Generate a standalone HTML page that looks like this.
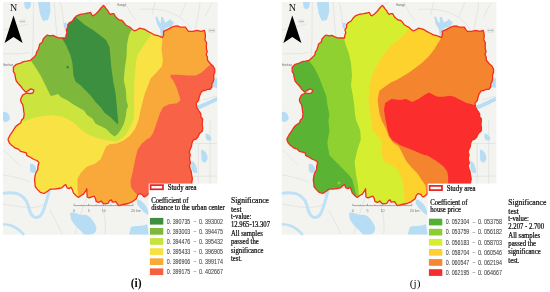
<!DOCTYPE html>
<html><head><meta charset="utf-8"><title>Figure</title>
<style>html,body{margin:0;padding:0;background:#fff;}svg{display:block;}</style></head>
<body>
<svg width="550" height="292" viewBox="0 0 550 292">
<rect width="550" height="292" fill="#fff"/>
<g transform="translate(0,0)">
<rect x="3" y="2" width="214.6" height="232.7" fill="#f3f3f0"/>
<path d="M33.5,2 C33,20 34,40 32,58" fill="none" stroke="#d9d9d6" stroke-width="0.55"/>
<path d="M54,2 C56,15 55,28 58,40" fill="none" stroke="#d9d9d6" stroke-width="0.55"/>
<path d="M60,2 C64,12 62,22 66,30" fill="none" stroke="#d9d9d6" stroke-width="0.55"/>
<path d="M3,54 C12,53 22,55 30,52" fill="none" stroke="#d9d9d6" stroke-width="0.55"/>
<path d="M3,30 C12,28 20,26 28,24" fill="none" stroke="#d9d9d6" stroke-width="0.55"/>
<path d="M140,9.4 C158,8 178,10 191.4,29.1" fill="none" stroke="#d9d9d6" stroke-width="0.55"/>
<path d="M155,2 C154,6 153,10 152,15" fill="none" stroke="#d9d9d6" stroke-width="0.55"/>
<path d="M186,2 C184,8 182,12 179.4,17.1" fill="none" stroke="#d9d9d6" stroke-width="0.55"/>
<path d="M200,2 C199,12 197,20 195,29" fill="none" stroke="#d9d9d6" stroke-width="0.55"/>
<path d="M212,3 C210,8 207,12 205,17" fill="none" stroke="#d9d9d6" stroke-width="0.55"/>
<path d="M125,2 C128,8 130,14 136,20" fill="none" stroke="#d9d9d6" stroke-width="0.55"/>
<path d="M110,2 C108,4 104,5 100,4" fill="none" stroke="#d9d9d6" stroke-width="0.55"/>
<path d="M190.1,143.5 L217,143.5 M198.4,143.5 L198.4,190 M190,176.4 L217,176 M210,120 L210,190" fill="none" stroke="#d9d9d6" stroke-width="0.55"/>
<path d="M203,100 L217,96" fill="none" stroke="#d9d9d6" stroke-width="0.55"/>
<path d="M3,150 C8,152 12,160 20,165" fill="none" stroke="#d9d9d6" stroke-width="0.55"/>
<path d="M3,175 C10,176 20,178 30,182" fill="none" stroke="#d9d9d6" stroke-width="0.55"/>
<path d="M50,210 C55,220 60,228 62,234" fill="none" stroke="#d9d9d6" stroke-width="0.55"/>
<path d="M75,234 C80,215 85,200 90,190" fill="none" stroke="#d9d9d6" stroke-width="0.55"/>
<path d="M105,234 C106,220 104,210 100,200" fill="none" stroke="#d9d9d6" stroke-width="0.55"/>
<path d="M3,204 C20,207 35,210 45,204" fill="none" stroke="#d9d9d6" stroke-width="0.55"/>
<path d="M150,208 C170,205 190,212 217,205" fill="none" stroke="#d9d9d6" stroke-width="0.55"/>
<path d="M175,186 C185,200 195,215 200,234" fill="none" stroke="#d9d9d6" stroke-width="0.55"/>
<path d="M3,193.6 C7,192.5 13,192.6 17.1,193.6 C20,194.5 24,197.5 26.5,201.3 C28,204 28.5,206.5 29.1,209 C30,212 31,214.5 32.5,215.8 C34,217.3 35.5,217.8 36.8,217.5 C38.5,217.2 40,216.3 41.1,215 C42.8,212.5 43.8,210 44.5,207.2 C45.5,204 46.3,201.5 47.1,198.7 C47.8,196 48.3,193.8 49.8,188" fill="none" stroke="#bfe1f5" stroke-width="3"/>
<path d="M3,224.3 C6,224.5 8.5,224.8 10.3,225.2 C13,226 15,227.2 17.1,228.6 C19,230 21,231.5 22.2,232.9 L24,235" fill="none" stroke="#bfe1f5" stroke-width="2.6"/>
<g font-family="Liberation Sans" font-size="2.6" fill="#666"><text x="3.2" y="66.3" textLength="10" lengthAdjust="spacingAndGlyphs">Hanchuan</text><text x="117.2" y="6" textLength="8.8" lengthAdjust="spacingAndGlyphs">Huangpi</text></g>
<g font-family="Liberation Sans" font-size="2.2" fill="#777"><rect x="208.6" y="29" width="6.4" height="3.2" rx="0.6" fill="#e9e9e7" stroke="#c9c9c7" stroke-width="0.3"/><text x="209.3" y="31.4" textLength="5" lengthAdjust="spacingAndGlyphs">G42</text><rect x="19.6" y="19.8" width="5.6" height="2.8" rx="0.5" fill="#ececea" stroke="#d0d0ce" stroke-width="0.3"/><text x="20.1" y="22" textLength="4.6" lengthAdjust="spacingAndGlyphs">G42</text></g>
<path d="M24,2 L31,2 L30.5,7 L28,9.5 L25,8 Z" fill="#b7ddf4"/>
<path d="M38,2 L50,2 L50.5,12 L48,20 L43,21 L40,14 Z" fill="#b7ddf4"/>
<path d="M63.5,23 L67,22.8 L66.5,29 L64,28 Z" fill="#b7ddf4"/>
<path d="M155.4,17 L157,16.5 L159.5,22 L161,23 L161,17 L163,17 L165,22.5 L168,21 L170,19 L172,21 L174.2,22.3 L172,26 L166,28 L164,30 L164,35 L161,36 L160,29 L157,24 Z" fill="#b7ddf4"/>
<path d="M70,213 C75,211 78,215 83,215 C88,214 92,219 95,224 C98,229 96,234.5 90,234.5 L84,234.5 C80,229 74,226 71,219 Z" fill="#b7ddf4"/>
<path d="M131,227 C136,225 141,227 147,224 L149,234.5 L129,234.5 Z" fill="#b7ddf4"/>
<path d="M137,199.5 C140,199 143,202 146,206 C148,210 149,213 148,215 C144,213 140,208 137,204 Z" fill="#b7ddf4"/>
<path d="M196,106 C202,104 210,100 217,97 L217,101 C210,104 203,108 197,110 Z" fill="#b7ddf4"/>
<path d="M211,80 L217,78 L217,88 L213,87 Z" fill="#b7ddf4"/>
<path d="M205.6,134 C208,133 211,136 211.7,139 C210,141.5 207,141 205.6,138 Z" fill="#b7ddf4"/>
<path d="M201,150 C204,149 207,153 207.6,158 C207,163 203,164 201.5,160 Z" fill="#b7ddf4"/>
<path d="M191.5,161 C194,160 197,166 197.3,172 C195,175 192,172 191.5,167 Z" fill="#b7ddf4"/>
<path d="M3,112 C6,111 9,113 10,118 C9,122 5,123 3,121 Z" fill="#b7ddf4"/>
<path d="M30,164 C33,163 36,166 36.5,170 C35,174 31,174 30,170 Z" fill="#b7ddf4"/>
<clipPath id="cl"><polygon points="13.4,67.3 16.4,64.3 20.6,63.2 23.5,61.7 26.7,61.2 30.2,60.4 32.9,58.1 36.0,55.0 36.6,52.2 38.2,49.7 39.0,47.0 39.8,44.0 42.5,42.0 43.2,39.0 45.1,36.8 47.3,35.0 50.0,35.8 52.9,35.3 55.5,36.6 58.5,37.9 61.7,38.0 65.8,38.0 66.0,35.3 67.0,32.7 66.2,29.9 67.8,27.4 67.8,24.7 69.7,22.5 72.4,21.0 74.0,18.5 76.7,15.8 80.2,14.4 85.0,13.7 88.4,13.0 90.5,12.3 91.8,15.1 93.2,15.8 96.0,13.7 98.7,11.0 101.4,7.5 103.5,5.5 104.9,6.8 106.2,8.9 107.6,10.3 109.0,13.0 110.3,14.4 112.4,13.7 113.8,13.7 115.1,15.8 116.5,17.8 119.2,19.9 122.0,20.5 124.0,22.6 125.4,24.7 127.5,26.0 130.2,27.4 132.3,29.5 134.3,30.8 136.4,30.1 137.7,29.5 139.8,28.1 142.5,28.8 145.0,29.5 147.9,31.4 152.0,33.5 154.5,34.8 157.3,35.5 160.0,36.3 162.5,37.6 163.7,34.6 163.5,31.4 167.7,29.3 171.9,27.2 175.0,26.1 177.8,26.0 180.3,27.2 185.5,27.2 186.9,29.4 188.6,31.4 192.8,31.4 197.0,30.3 201.2,31.4 204.3,30.3 205.2,33.4 205.4,36.6 204.9,39.8 206.6,42.8 206.4,46.0 206.4,48.8 207.3,51.6 206.2,54.5 207.5,57.2 207.4,60.0 208.6,61.5 210.7,64.0 213.2,66.2 214.7,69.1 214.8,72.3 213.6,75.3 213.9,78.5 213.2,81.6 211.9,84.0 211.9,87.0 210.1,89.3 207.4,89.3 205.0,90.5 202.4,90.9 200.4,93.7 199.3,97.0 198.5,100.5 196.2,103.2 196.6,106.4 197.8,109.4 199.5,111.6 200.9,114.0 200.8,116.7 202.6,119.0 202.4,121.7 202.2,124.8 202.7,127.9 202.4,131.0 199.5,133.6 197.8,137.2 195.8,139.2 193.1,140.2 191.9,143.2 191.5,146.5 190.1,149.5 189.2,152.1 190.3,154.8 189.6,157.4 189.7,160.0 190.5,162.9 189.3,165.8 190.2,168.7 191.2,171.5 191.6,174.5 192.4,178.9 191.6,183.3 191.6,187.0 188.9,186.7 186.2,187.7 183.5,186.4 180.8,187.2 178.1,186.6 175.4,187.8 172.7,186.5 169.9,187.2 167.2,186.4 164.5,187.8 161.8,186.7 159.1,187.2 156.4,186.3 153.7,187.7 151.0,187.0 150.0,191.5 147.9,194.4 145.0,196.8 143.5,196.5 142.1,194.4 139.2,193.6 137.7,195.1 136.3,198.7 132.6,201.6 128.3,203.5 123.2,204.5 118.8,205.6 117.4,204.2 115.9,201.6 112.3,202.2 111.6,200.0 109.8,200.5 108.0,203.3 105.0,203.8 102.8,203.1 101.1,201.0 98.7,202.4 96.3,201.7 95.3,198.3 94.2,196.2 91.8,196.9 89.1,197.9 87.2,197.0 86.9,192.0 86.8,188.6 86.1,190.4 83.5,194.2 81.0,195.5 78.5,197.4 75.9,195.5 73.4,192.9 72.1,189.1 70.8,187.2 69.5,188.5 67.0,187.8 65.7,184.6 64.5,185.3 61.9,187.8 58.1,188.5 54.3,189.1 50.5,189.1 47.9,191.0 44.1,193.5 40.3,192.3 37.1,189.1 35.2,186.5 35.0,183.3 34.5,180.2 35.2,175.1 36.1,172.4 37.7,170.0 38.0,165.7 39.0,162.6 37.0,160.5 33.9,159.5 30.8,157.5 26.7,155.4 26.7,153.4 24.7,152.3 20.5,151.3 18.4,149.1 15.4,148.2 11.3,145.1 9.3,142.8 8.2,140.0 8.2,138.8 10.3,134.7 12.5,131.7 14.4,128.5 16.1,126.1 18.5,124.4 20.8,122.8 21.6,120.0 23.6,118.2 24.2,114.0 23.6,110.5 23.3,107.4 22.6,104.3 21.0,102.0 20.6,99.2 22.6,95.1 26.7,93.0 29.8,93.7 32.9,93.0 33.9,90.0 30.8,88.9 28.4,90.6 25.7,92.0 22.6,88.9 20.8,86.2 18.5,83.8 16.3,81.0 15.4,77.6 14.9,74.3 13.4,71.4"/></clipPath>
<polygon points="13.4,67.3 16.4,64.3 20.6,63.2 23.5,61.7 26.7,61.2 30.2,60.4 32.9,58.1 36.0,55.0 36.6,52.2 38.2,49.7 39.0,47.0 39.8,44.0 42.5,42.0 43.2,39.0 45.1,36.8 47.3,35.0 50.0,35.8 52.9,35.3 55.5,36.6 58.5,37.9 61.7,38.0 65.8,38.0 66.0,35.3 67.0,32.7 66.2,29.9 67.8,27.4 67.8,24.7 69.7,22.5 72.4,21.0 74.0,18.5 76.7,15.8 80.2,14.4 85.0,13.7 88.4,13.0 90.5,12.3 91.8,15.1 93.2,15.8 96.0,13.7 98.7,11.0 101.4,7.5 103.5,5.5 104.9,6.8 106.2,8.9 107.6,10.3 109.0,13.0 110.3,14.4 112.4,13.7 113.8,13.7 115.1,15.8 116.5,17.8 119.2,19.9 122.0,20.5 124.0,22.6 125.4,24.7 127.5,26.0 130.2,27.4 132.3,29.5 134.3,30.8 136.4,30.1 137.7,29.5 139.8,28.1 142.5,28.8 145.0,29.5 147.9,31.4 152.0,33.5 154.5,34.8 157.3,35.5 160.0,36.3 162.5,37.6 163.7,34.6 163.5,31.4 167.7,29.3 171.9,27.2 175.0,26.1 177.8,26.0 180.3,27.2 185.5,27.2 186.9,29.4 188.6,31.4 192.8,31.4 197.0,30.3 201.2,31.4 204.3,30.3 205.2,33.4 205.4,36.6 204.9,39.8 206.6,42.8 206.4,46.0 206.4,48.8 207.3,51.6 206.2,54.5 207.5,57.2 207.4,60.0 208.6,61.5 210.7,64.0 213.2,66.2 214.7,69.1 214.8,72.3 213.6,75.3 213.9,78.5 213.2,81.6 211.9,84.0 211.9,87.0 210.1,89.3 207.4,89.3 205.0,90.5 202.4,90.9 200.4,93.7 199.3,97.0 198.5,100.5 196.2,103.2 196.6,106.4 197.8,109.4 199.5,111.6 200.9,114.0 200.8,116.7 202.6,119.0 202.4,121.7 202.2,124.8 202.7,127.9 202.4,131.0 199.5,133.6 197.8,137.2 195.8,139.2 193.1,140.2 191.9,143.2 191.5,146.5 190.1,149.5 189.2,152.1 190.3,154.8 189.6,157.4 189.7,160.0 190.5,162.9 189.3,165.8 190.2,168.7 191.2,171.5 191.6,174.5 192.4,178.9 191.6,183.3 191.6,187.0 188.9,186.7 186.2,187.7 183.5,186.4 180.8,187.2 178.1,186.6 175.4,187.8 172.7,186.5 169.9,187.2 167.2,186.4 164.5,187.8 161.8,186.7 159.1,187.2 156.4,186.3 153.7,187.7 151.0,187.0 150.0,191.5 147.9,194.4 145.0,196.8 143.5,196.5 142.1,194.4 139.2,193.6 137.7,195.1 136.3,198.7 132.6,201.6 128.3,203.5 123.2,204.5 118.8,205.6 117.4,204.2 115.9,201.6 112.3,202.2 111.6,200.0 109.8,200.5 108.0,203.3 105.0,203.8 102.8,203.1 101.1,201.0 98.7,202.4 96.3,201.7 95.3,198.3 94.2,196.2 91.8,196.9 89.1,197.9 87.2,197.0 86.9,192.0 86.8,188.6 86.1,190.4 83.5,194.2 81.0,195.5 78.5,197.4 75.9,195.5 73.4,192.9 72.1,189.1 70.8,187.2 69.5,188.5 67.0,187.8 65.7,184.6 64.5,185.3 61.9,187.8 58.1,188.5 54.3,189.1 50.5,189.1 47.9,191.0 44.1,193.5 40.3,192.3 37.1,189.1 35.2,186.5 35.0,183.3 34.5,180.2 35.2,175.1 36.1,172.4 37.7,170.0 38.0,165.7 39.0,162.6 37.0,160.5 33.9,159.5 30.8,157.5 26.7,155.4 26.7,153.4 24.7,152.3 20.5,151.3 18.4,149.1 15.4,148.2 11.3,145.1 9.3,142.8 8.2,140.0 8.2,138.8 10.3,134.7 12.5,131.7 14.4,128.5 16.1,126.1 18.5,124.4 20.8,122.8 21.6,120.0 23.6,118.2 24.2,114.0 23.6,110.5 23.3,107.4 22.6,104.3 21.0,102.0 20.6,99.2 22.6,95.1 26.7,93.0 29.8,93.7 32.9,93.0 33.9,90.0 30.8,88.9 28.4,90.6 25.7,92.0 22.6,88.9 20.8,86.2 18.5,83.8 16.3,81.0 15.4,77.6 14.9,74.3 13.4,71.4" fill="#f9e244"/>
<g clip-path="url(#cl)"><g transform="translate(0,0)">
<polygon points="162.5,0 162.5,37.6 161.5,50 162.9,60 161.9,66.2 156.7,72.3 150.6,78.5 147.5,86.7 144.4,95 142.3,103.2 140.6,110 138.5,120.3 135.1,128.8 129.9,135.7 123.1,140.8 116.2,143.4 109.4,144.2 106,146.8 103.4,152.8 100.8,159 95,163.7 86.7,166.7 80.6,172.9 77.5,179.1 77.5,189.4 78.5,194.5 78,215 230,215 230,0" fill="#f9a93a" />
<polygon points="230,60 212,60 210,65.1 206.1,68.2 202,72.3 195.8,75.4 187.6,75.4 179.4,74.8 171.1,74.8 170.1,76.5 173.2,80.6 176.3,86.7 179.4,96 180.4,100.1 177.3,103.2 169.1,104.2 162.9,107.3 159.8,113.5 157.5,120.5 153.1,133 150,137.6 146.8,139.3 141.6,143.7 137.5,149.9 135,160.2 133,170.8 130.5,181.1 131,187.3 134,191.4 137.1,194.5 139.7,197.2 140,215 230,215" fill="#f86247" />
<polygon points="0,0 0,121 24.7,121.3 32.9,118.2 41.1,116.2 51.4,115.1 61.7,116.5 70,120.3 75.1,123.7 80.3,128.8 87.1,134 95.7,137.4 104.2,140 111.1,140.8 116.2,141.7 121.4,139.1 126.5,134 129.9,127.1 133.4,120.3 134.2,110 134,100.6 134.1,86.7 135.1,72.3 136.2,60 138,54 144,45 152,33.5 152,0" fill="#cbe43e" />
<polygon points="28,0 28,50 31.3,61.2 35.4,67.3 40.6,75.6 44.7,83.8 48.8,92 50.8,96.1 55,95.1 58,94.1 61.1,97.2 67.3,100.2 73.5,104.4 79.6,108 84,110.5 87.1,115.1 92.3,118.6 95.7,123.7 100.8,126.3 106,128.8 111.1,134 114.5,136.5 117.9,134 121.4,128.8 123.9,123.7 125.7,116.8 126.5,110 128,106 126.5,100.6 125.9,90.5 123.8,80.1 124.9,67.5 126.5,57 127,45 128.8,35.6 131.6,29.5 134,0" fill="#7db83c" />
<polygon points="58,30 61.7,38 66,45 70.4,55 72.4,63.2 73.5,75.6 75.5,81.7 80.3,85.1 85.4,90.3 90.6,95.4 95.7,102.3 100.9,107.4 104.3,112.6 111.1,117.7 116.3,122.9 117.5,124.3 118.4,123.2 117.4,113.8 116.5,102.5 115.5,93 113.4,82.2 111.3,67.5 110.2,55 109.5,47 106,40 101,36 93,30 85,25 76,17.5 70,10" fill="#3b8f3e" />
<polygon points="69.00,67.20 68.81,67.90 68.30,68.41 67.60,68.60 66.90,68.41 66.39,67.90 66.20,67.20 66.39,66.50 66.90,65.99 67.60,65.80 68.30,65.99 68.81,66.50" fill="#3b8f3e" />
</g></g>
<polygon points="13.4,67.3 16.4,64.3 20.6,63.2 23.5,61.7 26.7,61.2 30.2,60.4 32.9,58.1 36.0,55.0 36.6,52.2 38.2,49.7 39.0,47.0 39.8,44.0 42.5,42.0 43.2,39.0 45.1,36.8 47.3,35.0 50.0,35.8 52.9,35.3 55.5,36.6 58.5,37.9 61.7,38.0 65.8,38.0 66.0,35.3 67.0,32.7 66.2,29.9 67.8,27.4 67.8,24.7 69.7,22.5 72.4,21.0 74.0,18.5 76.7,15.8 80.2,14.4 85.0,13.7 88.4,13.0 90.5,12.3 91.8,15.1 93.2,15.8 96.0,13.7 98.7,11.0 101.4,7.5 103.5,5.5 104.9,6.8 106.2,8.9 107.6,10.3 109.0,13.0 110.3,14.4 112.4,13.7 113.8,13.7 115.1,15.8 116.5,17.8 119.2,19.9 122.0,20.5 124.0,22.6 125.4,24.7 127.5,26.0 130.2,27.4 132.3,29.5 134.3,30.8 136.4,30.1 137.7,29.5 139.8,28.1 142.5,28.8 145.0,29.5 147.9,31.4 152.0,33.5 154.5,34.8 157.3,35.5 160.0,36.3 162.5,37.6 163.7,34.6 163.5,31.4 167.7,29.3 171.9,27.2 175.0,26.1 177.8,26.0 180.3,27.2 185.5,27.2 186.9,29.4 188.6,31.4 192.8,31.4 197.0,30.3 201.2,31.4 204.3,30.3 205.2,33.4 205.4,36.6 204.9,39.8 206.6,42.8 206.4,46.0 206.4,48.8 207.3,51.6 206.2,54.5 207.5,57.2 207.4,60.0 208.6,61.5 210.7,64.0 213.2,66.2 214.7,69.1 214.8,72.3 213.6,75.3 213.9,78.5 213.2,81.6 211.9,84.0 211.9,87.0 210.1,89.3 207.4,89.3 205.0,90.5 202.4,90.9 200.4,93.7 199.3,97.0 198.5,100.5 196.2,103.2 196.6,106.4 197.8,109.4 199.5,111.6 200.9,114.0 200.8,116.7 202.6,119.0 202.4,121.7 202.2,124.8 202.7,127.9 202.4,131.0 199.5,133.6 197.8,137.2 195.8,139.2 193.1,140.2 191.9,143.2 191.5,146.5 190.1,149.5 189.2,152.1 190.3,154.8 189.6,157.4 189.7,160.0 190.5,162.9 189.3,165.8 190.2,168.7 191.2,171.5 191.6,174.5 192.4,178.9 191.6,183.3 191.6,187.0 188.9,186.7 186.2,187.7 183.5,186.4 180.8,187.2 178.1,186.6 175.4,187.8 172.7,186.5 169.9,187.2 167.2,186.4 164.5,187.8 161.8,186.7 159.1,187.2 156.4,186.3 153.7,187.7 151.0,187.0 150.0,191.5 147.9,194.4 145.0,196.8 143.5,196.5 142.1,194.4 139.2,193.6 137.7,195.1 136.3,198.7 132.6,201.6 128.3,203.5 123.2,204.5 118.8,205.6 117.4,204.2 115.9,201.6 112.3,202.2 111.6,200.0 109.8,200.5 108.0,203.3 105.0,203.8 102.8,203.1 101.1,201.0 98.7,202.4 96.3,201.7 95.3,198.3 94.2,196.2 91.8,196.9 89.1,197.9 87.2,197.0 86.9,192.0 86.8,188.6 86.1,190.4 83.5,194.2 81.0,195.5 78.5,197.4 75.9,195.5 73.4,192.9 72.1,189.1 70.8,187.2 69.5,188.5 67.0,187.8 65.7,184.6 64.5,185.3 61.9,187.8 58.1,188.5 54.3,189.1 50.5,189.1 47.9,191.0 44.1,193.5 40.3,192.3 37.1,189.1 35.2,186.5 35.0,183.3 34.5,180.2 35.2,175.1 36.1,172.4 37.7,170.0 38.0,165.7 39.0,162.6 37.0,160.5 33.9,159.5 30.8,157.5 26.7,155.4 26.7,153.4 24.7,152.3 20.5,151.3 18.4,149.1 15.4,148.2 11.3,145.1 9.3,142.8 8.2,140.0 8.2,138.8 10.3,134.7 12.5,131.7 14.4,128.5 16.1,126.1 18.5,124.4 20.8,122.8 21.6,120.0 23.6,118.2 24.2,114.0 23.6,110.5 23.3,107.4 22.6,104.3 21.0,102.0 20.6,99.2 22.6,95.1 26.7,93.0 29.8,93.7 32.9,93.0 33.9,90.0 30.8,88.9 28.4,90.6 25.7,92.0 22.6,88.9 20.8,86.2 18.5,83.8 16.3,81.0 15.4,77.6 14.9,74.3 13.4,71.4" fill="none" stroke="#f2301e" stroke-width="1.3" stroke-linejoin="round"/>
<text x="13.6" y="10.7" font-family="Liberation Serif" font-size="10" text-anchor="middle" fill="#111">N</text>
<polygon points="13.5,15.4 4.6,43.1 13.5,36.9 22.6,43.1" fill="#000"/>
<g stroke="#777" stroke-width="0.6" fill="none"><path d="M74,205.6 H133"/><path d="M74,203.8 V205.6 M81.4,204.6 V205.6 M88.7,203.8 V205.6 M96.1,204.6 V205.6 M103.5,203.8 V205.6 M110.9,204.6 V205.6 M118.2,204.6 V205.6 M125.6,204.6 V205.6 M133,203.8 V205.6"/></g>
<g font-family="Liberation Sans" font-size="3.6" fill="#777"><text x="73" y="211.5">0</text><text x="87.8" y="211.5">5</text><text x="101.8" y="211.5">10</text><text x="131" y="211.5">20 km</text></g>
</g>
<g transform="translate(278.8,0)">
<rect x="3" y="2" width="214.6" height="232.7" fill="#f3f3f0"/>
<path d="M33.5,2 C33,20 34,40 32,58" fill="none" stroke="#d9d9d6" stroke-width="0.55"/>
<path d="M54,2 C56,15 55,28 58,40" fill="none" stroke="#d9d9d6" stroke-width="0.55"/>
<path d="M60,2 C64,12 62,22 66,30" fill="none" stroke="#d9d9d6" stroke-width="0.55"/>
<path d="M3,54 C12,53 22,55 30,52" fill="none" stroke="#d9d9d6" stroke-width="0.55"/>
<path d="M3,30 C12,28 20,26 28,24" fill="none" stroke="#d9d9d6" stroke-width="0.55"/>
<path d="M140,9.4 C158,8 178,10 191.4,29.1" fill="none" stroke="#d9d9d6" stroke-width="0.55"/>
<path d="M155,2 C154,6 153,10 152,15" fill="none" stroke="#d9d9d6" stroke-width="0.55"/>
<path d="M186,2 C184,8 182,12 179.4,17.1" fill="none" stroke="#d9d9d6" stroke-width="0.55"/>
<path d="M200,2 C199,12 197,20 195,29" fill="none" stroke="#d9d9d6" stroke-width="0.55"/>
<path d="M212,3 C210,8 207,12 205,17" fill="none" stroke="#d9d9d6" stroke-width="0.55"/>
<path d="M125,2 C128,8 130,14 136,20" fill="none" stroke="#d9d9d6" stroke-width="0.55"/>
<path d="M110,2 C108,4 104,5 100,4" fill="none" stroke="#d9d9d6" stroke-width="0.55"/>
<path d="M190.1,143.5 L217,143.5 M198.4,143.5 L198.4,190 M190,176.4 L217,176 M210,120 L210,190" fill="none" stroke="#d9d9d6" stroke-width="0.55"/>
<path d="M203,100 L217,96" fill="none" stroke="#d9d9d6" stroke-width="0.55"/>
<path d="M3,150 C8,152 12,160 20,165" fill="none" stroke="#d9d9d6" stroke-width="0.55"/>
<path d="M3,175 C10,176 20,178 30,182" fill="none" stroke="#d9d9d6" stroke-width="0.55"/>
<path d="M50,210 C55,220 60,228 62,234" fill="none" stroke="#d9d9d6" stroke-width="0.55"/>
<path d="M75,234 C80,215 85,200 90,190" fill="none" stroke="#d9d9d6" stroke-width="0.55"/>
<path d="M105,234 C106,220 104,210 100,200" fill="none" stroke="#d9d9d6" stroke-width="0.55"/>
<path d="M3,204 C20,207 35,210 45,204" fill="none" stroke="#d9d9d6" stroke-width="0.55"/>
<path d="M150,208 C170,205 190,212 217,205" fill="none" stroke="#d9d9d6" stroke-width="0.55"/>
<path d="M175,186 C185,200 195,215 200,234" fill="none" stroke="#d9d9d6" stroke-width="0.55"/>
<path d="M3,193.6 C7,192.5 13,192.6 17.1,193.6 C20,194.5 24,197.5 26.5,201.3 C28,204 28.5,206.5 29.1,209 C30,212 31,214.5 32.5,215.8 C34,217.3 35.5,217.8 36.8,217.5 C38.5,217.2 40,216.3 41.1,215 C42.8,212.5 43.8,210 44.5,207.2 C45.5,204 46.3,201.5 47.1,198.7 C47.8,196 48.3,193.8 49.8,188" fill="none" stroke="#bfe1f5" stroke-width="3"/>
<path d="M3,224.3 C6,224.5 8.5,224.8 10.3,225.2 C13,226 15,227.2 17.1,228.6 C19,230 21,231.5 22.2,232.9 L24,235" fill="none" stroke="#bfe1f5" stroke-width="2.6"/>
<g font-family="Liberation Sans" font-size="2.6" fill="#666"><text x="3.2" y="66.3" textLength="10" lengthAdjust="spacingAndGlyphs">Hanchuan</text><text x="117.2" y="6" textLength="8.8" lengthAdjust="spacingAndGlyphs">Huangpi</text></g>
<g font-family="Liberation Sans" font-size="2.2" fill="#777"><rect x="208.6" y="29" width="6.4" height="3.2" rx="0.6" fill="#e9e9e7" stroke="#c9c9c7" stroke-width="0.3"/><text x="209.3" y="31.4" textLength="5" lengthAdjust="spacingAndGlyphs">G42</text><rect x="19.6" y="19.8" width="5.6" height="2.8" rx="0.5" fill="#ececea" stroke="#d0d0ce" stroke-width="0.3"/><text x="20.1" y="22" textLength="4.6" lengthAdjust="spacingAndGlyphs">G42</text></g>
<path d="M24,2 L31,2 L30.5,7 L28,9.5 L25,8 Z" fill="#b7ddf4"/>
<path d="M38,2 L50,2 L50.5,12 L48,20 L43,21 L40,14 Z" fill="#b7ddf4"/>
<path d="M63.5,23 L67,22.8 L66.5,29 L64,28 Z" fill="#b7ddf4"/>
<path d="M155.4,17 L157,16.5 L159.5,22 L161,23 L161,17 L163,17 L165,22.5 L168,21 L170,19 L172,21 L174.2,22.3 L172,26 L166,28 L164,30 L164,35 L161,36 L160,29 L157,24 Z" fill="#b7ddf4"/>
<path d="M70,213 C75,211 78,215 83,215 C88,214 92,219 95,224 C98,229 96,234.5 90,234.5 L84,234.5 C80,229 74,226 71,219 Z" fill="#b7ddf4"/>
<path d="M131,227 C136,225 141,227 147,224 L149,234.5 L129,234.5 Z" fill="#b7ddf4"/>
<path d="M137,199.5 C140,199 143,202 146,206 C148,210 149,213 148,215 C144,213 140,208 137,204 Z" fill="#b7ddf4"/>
<path d="M196,106 C202,104 210,100 217,97 L217,101 C210,104 203,108 197,110 Z" fill="#b7ddf4"/>
<path d="M211,80 L217,78 L217,88 L213,87 Z" fill="#b7ddf4"/>
<path d="M205.6,134 C208,133 211,136 211.7,139 C210,141.5 207,141 205.6,138 Z" fill="#b7ddf4"/>
<path d="M201,150 C204,149 207,153 207.6,158 C207,163 203,164 201.5,160 Z" fill="#b7ddf4"/>
<path d="M191.5,161 C194,160 197,166 197.3,172 C195,175 192,172 191.5,167 Z" fill="#b7ddf4"/>
<path d="M3,112 C6,111 9,113 10,118 C9,122 5,123 3,121 Z" fill="#b7ddf4"/>
<path d="M30,164 C33,163 36,166 36.5,170 C35,174 31,174 30,170 Z" fill="#b7ddf4"/>
<clipPath id="cr"><polygon points="13.4,67.3 16.4,64.3 20.6,63.2 23.5,61.7 26.7,61.2 30.2,60.4 32.9,58.1 36.0,55.0 36.6,52.2 38.2,49.7 39.0,47.0 39.8,44.0 42.5,42.0 43.2,39.0 45.1,36.8 47.3,35.0 50.0,35.8 52.9,35.3 55.5,36.6 58.5,37.9 61.7,38.0 65.8,38.0 66.0,35.3 67.0,32.7 66.2,29.9 67.8,27.4 67.8,24.7 69.7,22.5 72.4,21.0 74.0,18.5 76.7,15.8 80.2,14.4 85.0,13.7 88.4,13.0 90.5,12.3 91.8,15.1 93.2,15.8 96.0,13.7 98.7,11.0 101.4,7.5 103.5,5.5 104.9,6.8 106.2,8.9 107.6,10.3 109.0,13.0 110.3,14.4 112.4,13.7 113.8,13.7 115.1,15.8 116.5,17.8 119.2,19.9 122.0,20.5 124.0,22.6 125.4,24.7 127.5,26.0 130.2,27.4 132.3,29.5 134.3,30.8 136.4,30.1 137.7,29.5 139.8,28.1 142.5,28.8 145.0,29.5 147.9,31.4 152.0,33.5 154.5,34.8 157.3,35.5 160.0,36.3 162.5,37.6 163.7,34.6 163.5,31.4 167.7,29.3 171.9,27.2 175.0,26.1 177.8,26.0 180.3,27.2 185.5,27.2 186.9,29.4 188.6,31.4 192.8,31.4 197.0,30.3 201.2,31.4 204.3,30.3 205.2,33.4 205.4,36.6 204.9,39.8 206.6,42.8 206.4,46.0 206.4,48.8 207.3,51.6 206.2,54.5 207.5,57.2 207.4,60.0 208.6,61.5 210.7,64.0 213.2,66.2 214.7,69.1 214.8,72.3 213.6,75.3 213.9,78.5 213.2,81.6 211.9,84.0 211.9,87.0 210.1,89.3 207.4,89.3 205.0,90.5 202.4,90.9 200.4,93.7 199.3,97.0 198.5,100.5 196.2,103.2 196.6,106.4 197.8,109.4 199.5,111.6 200.9,114.0 200.8,116.7 202.6,119.0 202.4,121.7 202.2,124.8 202.7,127.9 202.4,131.0 199.5,133.6 197.8,137.2 195.8,139.2 193.1,140.2 191.9,143.2 191.5,146.5 190.1,149.5 189.2,152.1 190.3,154.8 189.6,157.4 189.7,160.0 190.5,162.9 189.3,165.8 190.2,168.7 191.2,171.5 191.6,174.5 192.4,178.9 191.6,183.3 191.6,187.0 188.9,186.7 186.2,187.7 183.5,186.4 180.8,187.2 178.1,186.6 175.4,187.8 172.7,186.5 169.9,187.2 167.2,186.4 164.5,187.8 161.8,186.7 159.1,187.2 156.4,186.3 153.7,187.7 151.0,187.0 150.0,191.5 147.9,194.4 145.0,196.8 143.5,196.5 142.1,194.4 139.2,193.6 137.7,195.1 136.3,198.7 132.6,201.6 128.3,203.5 123.2,204.5 118.8,205.6 117.4,204.2 115.9,201.6 112.3,202.2 111.6,200.0 109.8,200.5 108.0,203.3 105.0,203.8 102.8,203.1 101.1,201.0 98.7,202.4 96.3,201.7 95.3,198.3 94.2,196.2 91.8,196.9 89.1,197.9 87.2,197.0 86.9,192.0 86.8,188.6 86.1,190.4 83.5,194.2 81.0,195.5 78.5,197.4 75.9,195.5 73.4,192.9 72.1,189.1 70.8,187.2 69.5,188.5 67.0,187.8 65.7,184.6 64.5,185.3 61.9,187.8 58.1,188.5 54.3,189.1 50.5,189.1 47.9,191.0 44.1,193.5 40.3,192.3 37.1,189.1 35.2,186.5 35.0,183.3 34.5,180.2 35.2,175.1 36.1,172.4 37.7,170.0 38.0,165.7 39.0,162.6 37.0,160.5 33.9,159.5 30.8,157.5 26.7,155.4 26.7,153.4 24.7,152.3 20.5,151.3 18.4,149.1 15.4,148.2 11.3,145.1 9.3,142.8 8.2,140.0 8.2,138.8 10.3,134.7 12.5,131.7 14.4,128.5 16.1,126.1 18.5,124.4 20.8,122.8 21.6,120.0 23.6,118.2 24.2,114.0 23.6,110.5 23.3,107.4 22.6,104.3 21.0,102.0 20.6,99.2 22.6,95.1 26.7,93.0 29.8,93.7 32.9,93.0 33.9,90.0 30.8,88.9 28.4,90.6 25.7,92.0 22.6,88.9 20.8,86.2 18.5,83.8 16.3,81.0 15.4,77.6 14.9,74.3 13.4,71.4"/></clipPath>
<polygon points="13.4,67.3 16.4,64.3 20.6,63.2 23.5,61.7 26.7,61.2 30.2,60.4 32.9,58.1 36.0,55.0 36.6,52.2 38.2,49.7 39.0,47.0 39.8,44.0 42.5,42.0 43.2,39.0 45.1,36.8 47.3,35.0 50.0,35.8 52.9,35.3 55.5,36.6 58.5,37.9 61.7,38.0 65.8,38.0 66.0,35.3 67.0,32.7 66.2,29.9 67.8,27.4 67.8,24.7 69.7,22.5 72.4,21.0 74.0,18.5 76.7,15.8 80.2,14.4 85.0,13.7 88.4,13.0 90.5,12.3 91.8,15.1 93.2,15.8 96.0,13.7 98.7,11.0 101.4,7.5 103.5,5.5 104.9,6.8 106.2,8.9 107.6,10.3 109.0,13.0 110.3,14.4 112.4,13.7 113.8,13.7 115.1,15.8 116.5,17.8 119.2,19.9 122.0,20.5 124.0,22.6 125.4,24.7 127.5,26.0 130.2,27.4 132.3,29.5 134.3,30.8 136.4,30.1 137.7,29.5 139.8,28.1 142.5,28.8 145.0,29.5 147.9,31.4 152.0,33.5 154.5,34.8 157.3,35.5 160.0,36.3 162.5,37.6 163.7,34.6 163.5,31.4 167.7,29.3 171.9,27.2 175.0,26.1 177.8,26.0 180.3,27.2 185.5,27.2 186.9,29.4 188.6,31.4 192.8,31.4 197.0,30.3 201.2,31.4 204.3,30.3 205.2,33.4 205.4,36.6 204.9,39.8 206.6,42.8 206.4,46.0 206.4,48.8 207.3,51.6 206.2,54.5 207.5,57.2 207.4,60.0 208.6,61.5 210.7,64.0 213.2,66.2 214.7,69.1 214.8,72.3 213.6,75.3 213.9,78.5 213.2,81.6 211.9,84.0 211.9,87.0 210.1,89.3 207.4,89.3 205.0,90.5 202.4,90.9 200.4,93.7 199.3,97.0 198.5,100.5 196.2,103.2 196.6,106.4 197.8,109.4 199.5,111.6 200.9,114.0 200.8,116.7 202.6,119.0 202.4,121.7 202.2,124.8 202.7,127.9 202.4,131.0 199.5,133.6 197.8,137.2 195.8,139.2 193.1,140.2 191.9,143.2 191.5,146.5 190.1,149.5 189.2,152.1 190.3,154.8 189.6,157.4 189.7,160.0 190.5,162.9 189.3,165.8 190.2,168.7 191.2,171.5 191.6,174.5 192.4,178.9 191.6,183.3 191.6,187.0 188.9,186.7 186.2,187.7 183.5,186.4 180.8,187.2 178.1,186.6 175.4,187.8 172.7,186.5 169.9,187.2 167.2,186.4 164.5,187.8 161.8,186.7 159.1,187.2 156.4,186.3 153.7,187.7 151.0,187.0 150.0,191.5 147.9,194.4 145.0,196.8 143.5,196.5 142.1,194.4 139.2,193.6 137.7,195.1 136.3,198.7 132.6,201.6 128.3,203.5 123.2,204.5 118.8,205.6 117.4,204.2 115.9,201.6 112.3,202.2 111.6,200.0 109.8,200.5 108.0,203.3 105.0,203.8 102.8,203.1 101.1,201.0 98.7,202.4 96.3,201.7 95.3,198.3 94.2,196.2 91.8,196.9 89.1,197.9 87.2,197.0 86.9,192.0 86.8,188.6 86.1,190.4 83.5,194.2 81.0,195.5 78.5,197.4 75.9,195.5 73.4,192.9 72.1,189.1 70.8,187.2 69.5,188.5 67.0,187.8 65.7,184.6 64.5,185.3 61.9,187.8 58.1,188.5 54.3,189.1 50.5,189.1 47.9,191.0 44.1,193.5 40.3,192.3 37.1,189.1 35.2,186.5 35.0,183.3 34.5,180.2 35.2,175.1 36.1,172.4 37.7,170.0 38.0,165.7 39.0,162.6 37.0,160.5 33.9,159.5 30.8,157.5 26.7,155.4 26.7,153.4 24.7,152.3 20.5,151.3 18.4,149.1 15.4,148.2 11.3,145.1 9.3,142.8 8.2,140.0 8.2,138.8 10.3,134.7 12.5,131.7 14.4,128.5 16.1,126.1 18.5,124.4 20.8,122.8 21.6,120.0 23.6,118.2 24.2,114.0 23.6,110.5 23.3,107.4 22.6,104.3 21.0,102.0 20.6,99.2 22.6,95.1 26.7,93.0 29.8,93.7 32.9,93.0 33.9,90.0 30.8,88.9 28.4,90.6 25.7,92.0 22.6,88.9 20.8,86.2 18.5,83.8 16.3,81.0 15.4,77.6 14.9,74.3 13.4,71.4" fill="#5ab332"/>
<g clip-path="url(#cr)"><g transform="translate(-0.8,0)">
<polygon points="28,0 28,50 31.9,62.2 36,67.3 41.1,77.6 45.2,87.9 48.3,96.1 49.3,104.3 51.4,115 50.4,120.3 51.4,130.6 49.3,142.9 51.4,155.2 59.6,163.5 66,170 71,175 74.3,179.4 76.7,189 78.5,196 79,215 230,215 230,0" fill="#8ed130" />
<polygon points="65.8,0 65.8,38 67.8,45.2 70.9,53.5 73,63.2 74,75.6 73,85.8 75,96.1 76.1,104.3 77.1,115 78.1,120.3 82.3,130.5 82.8,139.5 79.3,150 76.6,162 78,174 80,185 81,196 81,215 230,215 230,0" fill="#d5ef30" />
<polygon points="131.4,0 131.4,28.4 123.1,37.6 112.8,45.8 104.6,56.1 98.5,66.4 94.3,75 91.5,85.8 90.5,100.2 92.5,115 93.5,120 94.1,130 98.2,134.1 103.3,140.3 104.3,146.5 103.3,152.6 105.4,160.8 112.6,165 118.7,169.1 122.8,175.2 124.9,183.5 125.9,190 126.5,200 127,215 230,215 230,0" fill="#fdd22d" />
<polygon points="163.5,0 163.5,37.6 160.7,42 156.4,48.9 151.3,55.7 144.4,62.6 137.6,67.7 131.5,72.2 124.5,76.5 119.5,79.5 112.8,82.6 106.7,86.7 101.5,90.8 100.5,95 99.7,100.2 100.7,108.5 101.8,115 104,121 106.5,126 108.5,130 110.5,136.2 114.6,142.3 120.8,146.5 123.9,152.6 128,160.8 133.1,167 139.3,173.2 143.4,179.4 147.5,185.5 149,200 150,215 230,215 230,0" fill="#f5842f" />
<polygon points="230,100 199.1,106.2 197,105.2 192.8,104.1 188.6,103.1 182.4,100 176.1,96.8 171.9,95.8 165.6,96.8 159.4,96.8 155.2,94.7 151,92.6 146.8,94.7 140.5,98.9 134.3,102 128,98.9 121.7,100 113.4,98.9 107.1,103.1 106,110 107.5,120 109,127 109.5,130 111.5,136.2 114.6,140.3 122.8,145.4 133.1,149.5 145.5,154.7 149.3,155.5 158.4,160.9 165.6,166.4 169.3,171.8 170.2,177.3 170.2,186 230,186" fill="#fb2d2d" />
<polygon points="62.50,183.00 62.30,183.75 61.75,184.30 61.00,184.50 60.25,184.30 59.70,183.75 59.50,183.00 59.70,182.25 60.25,181.70 61.00,181.50 61.75,181.70 62.30,182.25" fill="#93cb3c" />
</g></g>
<polygon points="13.4,67.3 16.4,64.3 20.6,63.2 23.5,61.7 26.7,61.2 30.2,60.4 32.9,58.1 36.0,55.0 36.6,52.2 38.2,49.7 39.0,47.0 39.8,44.0 42.5,42.0 43.2,39.0 45.1,36.8 47.3,35.0 50.0,35.8 52.9,35.3 55.5,36.6 58.5,37.9 61.7,38.0 65.8,38.0 66.0,35.3 67.0,32.7 66.2,29.9 67.8,27.4 67.8,24.7 69.7,22.5 72.4,21.0 74.0,18.5 76.7,15.8 80.2,14.4 85.0,13.7 88.4,13.0 90.5,12.3 91.8,15.1 93.2,15.8 96.0,13.7 98.7,11.0 101.4,7.5 103.5,5.5 104.9,6.8 106.2,8.9 107.6,10.3 109.0,13.0 110.3,14.4 112.4,13.7 113.8,13.7 115.1,15.8 116.5,17.8 119.2,19.9 122.0,20.5 124.0,22.6 125.4,24.7 127.5,26.0 130.2,27.4 132.3,29.5 134.3,30.8 136.4,30.1 137.7,29.5 139.8,28.1 142.5,28.8 145.0,29.5 147.9,31.4 152.0,33.5 154.5,34.8 157.3,35.5 160.0,36.3 162.5,37.6 163.7,34.6 163.5,31.4 167.7,29.3 171.9,27.2 175.0,26.1 177.8,26.0 180.3,27.2 185.5,27.2 186.9,29.4 188.6,31.4 192.8,31.4 197.0,30.3 201.2,31.4 204.3,30.3 205.2,33.4 205.4,36.6 204.9,39.8 206.6,42.8 206.4,46.0 206.4,48.8 207.3,51.6 206.2,54.5 207.5,57.2 207.4,60.0 208.6,61.5 210.7,64.0 213.2,66.2 214.7,69.1 214.8,72.3 213.6,75.3 213.9,78.5 213.2,81.6 211.9,84.0 211.9,87.0 210.1,89.3 207.4,89.3 205.0,90.5 202.4,90.9 200.4,93.7 199.3,97.0 198.5,100.5 196.2,103.2 196.6,106.4 197.8,109.4 199.5,111.6 200.9,114.0 200.8,116.7 202.6,119.0 202.4,121.7 202.2,124.8 202.7,127.9 202.4,131.0 199.5,133.6 197.8,137.2 195.8,139.2 193.1,140.2 191.9,143.2 191.5,146.5 190.1,149.5 189.2,152.1 190.3,154.8 189.6,157.4 189.7,160.0 190.5,162.9 189.3,165.8 190.2,168.7 191.2,171.5 191.6,174.5 192.4,178.9 191.6,183.3 191.6,187.0 188.9,186.7 186.2,187.7 183.5,186.4 180.8,187.2 178.1,186.6 175.4,187.8 172.7,186.5 169.9,187.2 167.2,186.4 164.5,187.8 161.8,186.7 159.1,187.2 156.4,186.3 153.7,187.7 151.0,187.0 150.0,191.5 147.9,194.4 145.0,196.8 143.5,196.5 142.1,194.4 139.2,193.6 137.7,195.1 136.3,198.7 132.6,201.6 128.3,203.5 123.2,204.5 118.8,205.6 117.4,204.2 115.9,201.6 112.3,202.2 111.6,200.0 109.8,200.5 108.0,203.3 105.0,203.8 102.8,203.1 101.1,201.0 98.7,202.4 96.3,201.7 95.3,198.3 94.2,196.2 91.8,196.9 89.1,197.9 87.2,197.0 86.9,192.0 86.8,188.6 86.1,190.4 83.5,194.2 81.0,195.5 78.5,197.4 75.9,195.5 73.4,192.9 72.1,189.1 70.8,187.2 69.5,188.5 67.0,187.8 65.7,184.6 64.5,185.3 61.9,187.8 58.1,188.5 54.3,189.1 50.5,189.1 47.9,191.0 44.1,193.5 40.3,192.3 37.1,189.1 35.2,186.5 35.0,183.3 34.5,180.2 35.2,175.1 36.1,172.4 37.7,170.0 38.0,165.7 39.0,162.6 37.0,160.5 33.9,159.5 30.8,157.5 26.7,155.4 26.7,153.4 24.7,152.3 20.5,151.3 18.4,149.1 15.4,148.2 11.3,145.1 9.3,142.8 8.2,140.0 8.2,138.8 10.3,134.7 12.5,131.7 14.4,128.5 16.1,126.1 18.5,124.4 20.8,122.8 21.6,120.0 23.6,118.2 24.2,114.0 23.6,110.5 23.3,107.4 22.6,104.3 21.0,102.0 20.6,99.2 22.6,95.1 26.7,93.0 29.8,93.7 32.9,93.0 33.9,90.0 30.8,88.9 28.4,90.6 25.7,92.0 22.6,88.9 20.8,86.2 18.5,83.8 16.3,81.0 15.4,77.6 14.9,74.3 13.4,71.4" fill="none" stroke="#f2301e" stroke-width="1.3" stroke-linejoin="round"/>
<text x="13.6" y="10.7" font-family="Liberation Serif" font-size="10" text-anchor="middle" fill="#111">N</text>
<polygon points="13.5,15.4 4.6,43.1 13.5,36.9 22.6,43.1" fill="#000"/>
<g stroke="#777" stroke-width="0.6" fill="none"><path d="M74,205.6 H133"/><path d="M74,203.8 V205.6 M81.4,204.6 V205.6 M88.7,203.8 V205.6 M96.1,204.6 V205.6 M103.5,203.8 V205.6 M110.9,204.6 V205.6 M118.2,204.6 V205.6 M125.6,204.6 V205.6 M133,203.8 V205.6"/></g>
<g font-family="Liberation Sans" font-size="3.6" fill="#777"><text x="73" y="211.5">0</text><text x="87.8" y="211.5">5</text><text x="101.8" y="211.5">10</text><text x="131" y="211.5">20 km</text></g>
</g>
<rect x="148.7" y="183.6" width="69.3" height="52" fill="#fff"/>
<rect x="150.6" y="185.1" width="12.4" height="4.2" fill="#fff" stroke="#ec1c1c" stroke-width="1.7"/>
<text transform="translate(167.7,190.3) scale(1,1.12)" font-size="6.8" font-family="Liberation Serif" fill="#111" stroke="#111" stroke-width="0.22">Study area</text>
<text transform="translate(151.2,203) scale(1,1.1)" font-size="6.7" font-family="Liberation Serif" fill="#111" stroke="#111" stroke-width="0.22">Coefficient of</text>
<text transform="translate(151.2,210.1) scale(1,1.1)" font-size="6.7" font-family="Liberation Serif" fill="#111" stroke="#111" stroke-width="0.22">distance to the urban center</text>
<rect x="149.9" y="217.90" width="13.4" height="6.7" fill="#3d8e40"/>
<text x="166.8" y="223.50" font-family="Liberation Sans" font-size="7" fill="#444" stroke="#444" stroke-width="0.08" lengthAdjust="spacingAndGlyphs" textLength="23.5">0. 390735</text>
<text x="194.9" y="222.90" font-family="Liberation Sans" font-size="5" fill="#505050" text-anchor="middle">–</text>
<text x="199" y="223.50" font-family="Liberation Sans" font-size="7" fill="#444" stroke="#444" stroke-width="0.08" lengthAdjust="spacingAndGlyphs" textLength="23.9">0. 393002</text>
<rect x="149.9" y="228.00" width="13.4" height="6.7" fill="#7db83c"/>
<text x="166.8" y="233.60" font-family="Liberation Sans" font-size="7" fill="#444" stroke="#444" stroke-width="0.08" lengthAdjust="spacingAndGlyphs" textLength="23.5">0. 393003</text>
<text x="194.9" y="233.00" font-family="Liberation Sans" font-size="5" fill="#505050" text-anchor="middle">–</text>
<text x="199" y="233.60" font-family="Liberation Sans" font-size="7" fill="#444" stroke="#444" stroke-width="0.08" lengthAdjust="spacingAndGlyphs" textLength="23.9">0. 394475</text>
<rect x="149.9" y="238.10" width="13.4" height="6.7" fill="#c8e23d"/>
<text x="166.8" y="243.70" font-family="Liberation Sans" font-size="7" fill="#444" stroke="#444" stroke-width="0.08" lengthAdjust="spacingAndGlyphs" textLength="23.5">0. 394476</text>
<text x="194.9" y="243.10" font-family="Liberation Sans" font-size="5" fill="#505050" text-anchor="middle">–</text>
<text x="199" y="243.70" font-family="Liberation Sans" font-size="7" fill="#444" stroke="#444" stroke-width="0.08" lengthAdjust="spacingAndGlyphs" textLength="23.9">0. 395432</text>
<rect x="149.9" y="248.20" width="13.4" height="6.7" fill="#f9e042"/>
<text x="166.8" y="253.80" font-family="Liberation Sans" font-size="7" fill="#444" stroke="#444" stroke-width="0.08" lengthAdjust="spacingAndGlyphs" textLength="23.5">0. 395433</text>
<text x="194.9" y="253.20" font-family="Liberation Sans" font-size="5" fill="#505050" text-anchor="middle">–</text>
<text x="199" y="253.80" font-family="Liberation Sans" font-size="7" fill="#444" stroke="#444" stroke-width="0.08" lengthAdjust="spacingAndGlyphs" textLength="23.9">0. 396905</text>
<rect x="149.9" y="258.30" width="13.4" height="6.7" fill="#f9a83a"/>
<text x="166.8" y="263.90" font-family="Liberation Sans" font-size="7" fill="#444" stroke="#444" stroke-width="0.08" lengthAdjust="spacingAndGlyphs" textLength="23.5">0. 396906</text>
<text x="194.9" y="263.30" font-family="Liberation Sans" font-size="5" fill="#505050" text-anchor="middle">–</text>
<text x="199" y="263.90" font-family="Liberation Sans" font-size="7" fill="#444" stroke="#444" stroke-width="0.08" lengthAdjust="spacingAndGlyphs" textLength="23.9">0. 399174</text>
<rect x="149.9" y="268.40" width="13.4" height="6.7" fill="#f7603f"/>
<text x="166.8" y="274.00" font-family="Liberation Sans" font-size="7" fill="#444" stroke="#444" stroke-width="0.08" lengthAdjust="spacingAndGlyphs" textLength="23.5">0. 399175</text>
<text x="194.9" y="273.40" font-family="Liberation Sans" font-size="5" fill="#505050" text-anchor="middle">–</text>
<text x="199" y="274.00" font-family="Liberation Sans" font-size="7" fill="#444" stroke="#444" stroke-width="0.08" lengthAdjust="spacingAndGlyphs" textLength="23.9">0. 402667</text>
<text x="231" y="203.4" font-size="7.6" font-family="Liberation Serif" fill="#111" stroke="#111" stroke-width="0.22" textLength="38" lengthAdjust="spacingAndGlyphs">Significance</text>
<text x="231" y="211.8" font-size="7.6" font-family="Liberation Serif" fill="#111" stroke="#111" stroke-width="0.22">test</text>
<text transform="translate(231,218.7) scale(1,1.12)" font-size="6.7" font-family="Liberation Serif" fill="#111" stroke="#111" stroke-width="0.22">t-value:</text>
<text transform="translate(231,227.3) scale(1,1.12)" font-size="6.7" font-family="Liberation Serif" fill="#111" stroke="#111" stroke-width="0.22">12.965-13.307</text>
<text transform="translate(231,235.6) scale(1,1.12)" font-size="6.7" font-family="Liberation Serif" fill="#111" stroke="#111" stroke-width="0.22">All samples</text>
<text transform="translate(231,244.2) scale(1,1.12)" font-size="6.7" font-family="Liberation Serif" fill="#111" stroke="#111" stroke-width="0.22">passed the</text>
<text transform="translate(231,252.5) scale(1,1.12)" font-size="6.7" font-family="Liberation Serif" fill="#111" stroke="#111" stroke-width="0.22">significance</text>
<text transform="translate(231,260.7) scale(1,1.12)" font-size="6.7" font-family="Liberation Serif" fill="#111" stroke="#111" stroke-width="0.22">test.</text>
<rect x="427.7" y="183.6" width="69.3" height="52" fill="#fff"/>
<rect x="429.6" y="185.9" width="12.4" height="4.2" fill="#fff" stroke="#ec1c1c" stroke-width="1.7"/>
<text transform="translate(446.7,191.10000000000002) scale(1,1.12)" font-size="6.8" font-family="Liberation Serif" fill="#111" stroke="#111" stroke-width="0.22">Study area</text>
<text transform="translate(430.2,205.0) scale(1,1.1)" font-size="6.7" font-family="Liberation Serif" fill="#111" stroke="#111" stroke-width="0.22">Coefficient of</text>
<text transform="translate(430.2,212.1) scale(1,1.1)" font-size="6.7" font-family="Liberation Serif" fill="#111" stroke="#111" stroke-width="0.22">house price</text>
<rect x="428.9" y="218.70" width="13.4" height="6.7" fill="#52b035"/>
<text x="445.8" y="224.30" font-family="Liberation Sans" font-size="7" fill="#444" stroke="#444" stroke-width="0.08" lengthAdjust="spacingAndGlyphs" textLength="23.5">0. 052304</text>
<text x="473.9" y="223.70" font-family="Liberation Sans" font-size="5" fill="#505050" text-anchor="middle">–</text>
<text x="478" y="224.30" font-family="Liberation Sans" font-size="7" fill="#444" stroke="#444" stroke-width="0.08" lengthAdjust="spacingAndGlyphs" textLength="23.9">0. 053758</text>
<rect x="428.9" y="228.80" width="13.4" height="6.7" fill="#8ccd34"/>
<text x="445.8" y="234.40" font-family="Liberation Sans" font-size="7" fill="#444" stroke="#444" stroke-width="0.08" lengthAdjust="spacingAndGlyphs" textLength="23.5">0. 053759</text>
<text x="473.9" y="233.80" font-family="Liberation Sans" font-size="5" fill="#505050" text-anchor="middle">–</text>
<text x="478" y="234.40" font-family="Liberation Sans" font-size="7" fill="#444" stroke="#444" stroke-width="0.08" lengthAdjust="spacingAndGlyphs" textLength="23.9">0. 056182</text>
<rect x="428.9" y="238.90" width="13.4" height="6.7" fill="#d5ed32"/>
<text x="445.8" y="244.50" font-family="Liberation Sans" font-size="7" fill="#444" stroke="#444" stroke-width="0.08" lengthAdjust="spacingAndGlyphs" textLength="23.5">0. 056183</text>
<text x="473.9" y="243.90" font-family="Liberation Sans" font-size="5" fill="#505050" text-anchor="middle">–</text>
<text x="478" y="244.50" font-family="Liberation Sans" font-size="7" fill="#444" stroke="#444" stroke-width="0.08" lengthAdjust="spacingAndGlyphs" textLength="23.9">0. 058703</text>
<rect x="428.9" y="249.00" width="13.4" height="6.7" fill="#fcd036"/>
<text x="445.8" y="254.60" font-family="Liberation Sans" font-size="7" fill="#444" stroke="#444" stroke-width="0.08" lengthAdjust="spacingAndGlyphs" textLength="23.5">0. 058704</text>
<text x="473.9" y="254.00" font-family="Liberation Sans" font-size="5" fill="#505050" text-anchor="middle">–</text>
<text x="478" y="254.60" font-family="Liberation Sans" font-size="7" fill="#444" stroke="#444" stroke-width="0.08" lengthAdjust="spacingAndGlyphs" textLength="23.9">0. 060546</text>
<rect x="428.9" y="259.10" width="13.4" height="6.7" fill="#f6862f"/>
<text x="445.8" y="264.70" font-family="Liberation Sans" font-size="7" fill="#444" stroke="#444" stroke-width="0.08" lengthAdjust="spacingAndGlyphs" textLength="23.5">0. 060547</text>
<text x="473.9" y="264.10" font-family="Liberation Sans" font-size="5" fill="#505050" text-anchor="middle">–</text>
<text x="478" y="264.70" font-family="Liberation Sans" font-size="7" fill="#444" stroke="#444" stroke-width="0.08" lengthAdjust="spacingAndGlyphs" textLength="23.9">0. 062194</text>
<rect x="428.9" y="269.20" width="13.4" height="6.7" fill="#f72c2f"/>
<text x="445.8" y="274.80" font-family="Liberation Sans" font-size="7" fill="#444" stroke="#444" stroke-width="0.08" lengthAdjust="spacingAndGlyphs" textLength="23.5">0. 062195</text>
<text x="473.9" y="274.20" font-family="Liberation Sans" font-size="5" fill="#505050" text-anchor="middle">–</text>
<text x="478" y="274.80" font-family="Liberation Sans" font-size="7" fill="#444" stroke="#444" stroke-width="0.08" lengthAdjust="spacingAndGlyphs" textLength="23.9">0. 064667</text>
<text x="508.3" y="205.3" font-size="7.6" font-family="Liberation Serif" fill="#111" stroke="#111" stroke-width="0.22" textLength="38" lengthAdjust="spacingAndGlyphs">Significance</text>
<text x="508.3" y="213.70000000000002" font-size="7.6" font-family="Liberation Serif" fill="#111" stroke="#111" stroke-width="0.22">test</text>
<text transform="translate(508.3,220.6) scale(1,1.12)" font-size="6.7" font-family="Liberation Serif" fill="#111" stroke="#111" stroke-width="0.22">t-value:</text>
<text transform="translate(508.3,229.20000000000002) scale(1,1.12)" font-size="6.7" font-family="Liberation Serif" fill="#111" stroke="#111" stroke-width="0.22">2.207 - 2.700</text>
<text transform="translate(508.3,237.5) scale(1,1.12)" font-size="6.7" font-family="Liberation Serif" fill="#111" stroke="#111" stroke-width="0.22">All samples</text>
<text transform="translate(508.3,246.1) scale(1,1.12)" font-size="6.7" font-family="Liberation Serif" fill="#111" stroke="#111" stroke-width="0.22">passed the</text>
<text transform="translate(508.3,254.4) scale(1,1.12)" font-size="6.7" font-family="Liberation Serif" fill="#111" stroke="#111" stroke-width="0.22">significance</text>
<text transform="translate(508.3,262.59999999999997) scale(1,1.12)" font-size="6.7" font-family="Liberation Serif" fill="#111" stroke="#111" stroke-width="0.22">test.</text>
<text x="136.2" y="287" font-family="Liberation Serif" font-size="11.6" font-weight="bold" text-anchor="middle" fill="#111">(i)</text>
<text x="415.2" y="287" font-family="Liberation Serif" font-size="11.3" text-anchor="middle" fill="#111">(j)</text>
</svg>
</body></html>
